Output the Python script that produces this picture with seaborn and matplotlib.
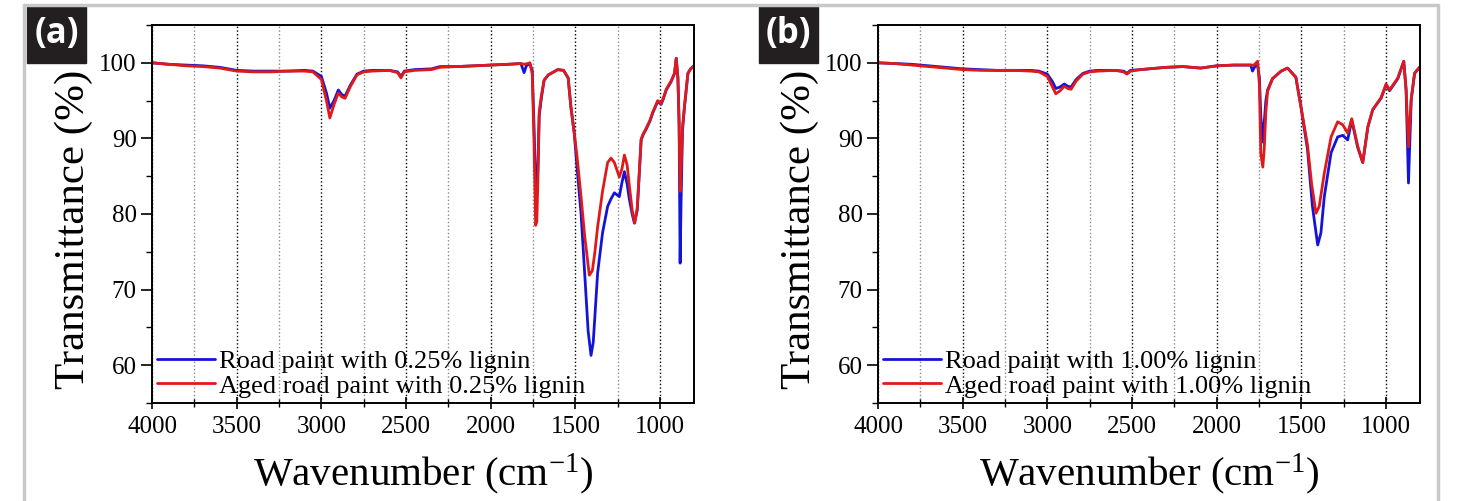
import matplotlib
matplotlib.use("Agg")
from matplotlib import pyplot as plt
from matplotlib.lines import Line2D
from matplotlib.patches import Rectangle
from matplotlib.ticker import MultipleLocator
import pandas as pd
import seaborn as sns

# values (wavenumber cm-1, transmittance %)
wn_a_blue = [4000, 3900, 3800, 3700, 3600, 3500, 3400, 3300, 3200, 3100, 3050, 3000, 2970, 2950, 2925,
             2900, 2880, 2860, 2830, 2790, 2750, 2700, 2600, 2550, 2530, 2510, 2450, 2350, 2300, 2200,
             2100, 2000, 1900, 1822, 1803, 1790, 1769, 1755, 1745, 1732, 1722, 1714, 1700, 1685, 1660,
             1620, 1605, 1570, 1543, 1527, 1507, 1490, 1467, 1445, 1425, 1408, 1395, 1369, 1340, 1310,
             1290, 1270, 1241, 1225, 1211, 1195, 1182, 1165, 1152, 1135, 1112, 1100, 1083, 1060, 1043,
             1014, 994, 980, 964, 935, 915, 905, 895, 888, 882, 876, 868, 856, 836, 820, 800]
t_a_blue = [100.0, 99.8, 99.7, 99.6, 99.4, 99.0, 98.9, 98.9, 98.9, 99.0, 98.9, 98.2, 96.0, 94.0, 95.0,
            96.4, 95.8, 95.6, 97.0, 98.5, 98.9, 99.0, 99.0, 98.8, 98.2, 98.9, 99.1, 99.2, 99.5, 99.5,
            99.6, 99.7, 99.8, 99.9, 98.7, 99.6, 99.9, 99.0, 92.0, 81.5, 86.0, 93.0, 95.5, 97.7, 98.4,
            98.9, 99.1, 99.0, 98.0, 94.2, 90.7, 86.0, 80.1, 72.0, 64.5, 61.3, 63.0, 72.2, 77.5, 81.0,
            82.0, 82.8, 82.3, 84.2, 85.6, 84.0, 82.0, 80.0, 78.8, 80.5, 89.8, 90.5, 91.2, 92.3, 93.4,
            94.9, 94.5, 95.3, 96.4, 97.5, 98.6, 100.6, 98.0, 92.0, 73.5, 82.0, 91.0, 94.2, 98.6, 99.2, 99.6]

wn_a_red = [4000, 3900, 3800, 3700, 3600, 3500, 3400, 3300, 3200, 3100, 3050, 3000, 2970, 2950, 2925,
            2900, 2880, 2860, 2830, 2790, 2750, 2700, 2600, 2550, 2530, 2510, 2450, 2350, 2300, 2200,
            2100, 2000, 1900, 1822, 1800, 1769, 1755, 1745, 1735, 1728, 1720, 1714, 1700, 1685, 1660,
            1620, 1605, 1570, 1543, 1527, 1507, 1490, 1467, 1445, 1418, 1400, 1385, 1369, 1340, 1310,
            1290, 1270, 1241, 1225, 1211, 1195, 1182, 1165, 1150, 1135, 1112, 1100, 1083, 1060, 1043,
            1014, 994, 980, 964, 935, 915, 905, 895, 888, 882, 876, 868, 856, 836, 820, 800]
t_a_red = [100.0, 99.8, 99.6, 99.5, 99.3, 98.9, 98.8, 98.8, 98.9, 98.9, 98.8, 97.8, 95.0, 92.7, 94.5,
           96.0, 95.5, 95.3, 96.8, 98.4, 98.8, 98.9, 99.0, 98.7, 98.0, 98.8, 99.0, 99.1, 99.4, 99.5,
           99.6, 99.7, 99.8, 99.9, 99.8, 100.0, 98.5, 90.0, 78.5, 79.0, 86.0, 93.5, 95.8, 97.7, 98.4,
           98.9, 99.1, 99.0, 98.0, 94.2, 90.7, 87.5, 82.3, 77.0, 71.9, 72.5, 75.0, 78.3, 83.0, 86.8,
           87.4, 86.8, 84.9, 86.0, 87.8, 86.5, 83.8, 80.5, 78.8, 80.8, 89.9, 90.6, 91.3, 92.4, 93.5,
           95.0, 94.6, 95.4, 96.5, 97.6, 98.6, 100.6, 98.0, 92.0, 83.0, 86.0, 91.5, 94.3, 98.6, 99.2, 99.6]

wn_b_blue = [4000, 3900, 3800, 3700, 3600, 3500, 3400, 3300, 3200, 3100, 3050, 3000, 2970, 2950, 2925,
             2900, 2880, 2860, 2830, 2790, 2750, 2700, 2600, 2550, 2530, 2510, 2450, 2350, 2300, 2200,
             2095, 2000, 1900, 1799, 1789, 1775, 1759, 1748, 1740, 1728, 1720, 1710, 1700, 1671, 1620,
             1582, 1533, 1503, 1464, 1435, 1404, 1385, 1365, 1325, 1286, 1256, 1227, 1203, 1168, 1138,
             1108, 1079, 1030, 1000, 980, 931, 896, 882, 868, 852, 832, 803]
t_b_blue = [100.0, 99.9, 99.8, 99.6, 99.4, 99.2, 99.1, 99.0, 99.0, 99.0, 98.9, 98.5, 97.5, 96.6, 96.8,
            97.2, 96.9, 96.8, 97.8, 98.6, 98.9, 99.0, 99.0, 98.9, 98.6, 99.0, 99.1, 99.3, 99.4, 99.5,
            99.3, 99.6, 99.7, 99.7, 98.9, 99.5, 99.8, 98.0, 93.0, 89.5, 92.0, 95.0, 96.4, 97.9, 98.9,
            99.3, 98.1, 94.2, 88.5, 81.0, 75.9, 77.5, 82.3, 88.1, 90.2, 90.4, 89.8, 92.4, 88.8, 86.8,
            91.5, 93.8, 95.3, 97.1, 96.3, 97.9, 100.2, 96.4, 84.1, 95.1, 98.6, 99.4]

wn_b_red = [4000, 3900, 3800, 3700, 3600, 3500, 3400, 3300, 3200, 3100, 3050, 3000, 2970, 2950, 2925,
            2900, 2880, 2860, 2830, 2790, 2750, 2700, 2600, 2550, 2530, 2510, 2450, 2350, 2300, 2200,
            2095, 2000, 1900, 1799, 1780, 1759, 1748, 1740, 1728, 1720, 1710, 1700, 1671, 1620,
            1582, 1533, 1503, 1464, 1440, 1414, 1395, 1365, 1325, 1286, 1256, 1227, 1203, 1168, 1138,
            1108, 1079, 1030, 1000, 980, 931, 896, 882, 868, 852, 832, 803]
t_b_red = [100.0, 99.9, 99.7, 99.5, 99.3, 99.1, 99.0, 99.0, 99.0, 98.9, 98.8, 98.2, 96.8, 95.9, 96.3,
           96.9, 96.6, 96.5, 97.6, 98.5, 98.8, 98.9, 99.0, 98.8, 98.5, 98.9, 99.1, 99.3, 99.4, 99.5,
           99.3, 99.6, 99.7, 99.7, 99.7, 100.2, 97.0, 88.0, 86.2, 88.5, 93.5, 96.2, 97.9, 98.9,
           99.3, 98.1, 94.2, 89.1, 84.0, 80.1, 81.0, 85.4, 90.2, 92.2, 91.8, 90.7, 92.6, 89.0, 86.8,
           91.5, 93.8, 95.4, 97.2, 96.4, 98.0, 100.2, 96.4, 88.9, 95.2, 98.6, 99.4]

labels_a = ["Road paint with 0.25% lignin", "Aged road paint with 0.25% lignin"]
labels_b = ["Road paint with 1.00% lignin", "Aged road paint with 1.00% lignin"]
panel_tags = ["(a)", "(b)"]

sns.set_theme(style="ticks")
plt.rcParams['font.family'] = ['Liberation Serif', 'DejaVu Serif']
plt.rcParams['mathtext.fontset'] = 'custom'
plt.rcParams['mathtext.rm'] = 'Liberation Serif'
plt.rcParams['mathtext.it'] = 'Liberation Serif:italic'
plt.rcParams['text.color'] = 'black'
plt.rcParams['axes.labelcolor'] = 'black'
plt.rcParams['xtick.color'] = 'black'
plt.rcParams['ytick.color'] = 'black'

W, H = 1463, 501
fig = plt.figure(figsize=(W / 100, H / 100), dpi=100)

# light grey frame round both panels
frame = dict(color='#c8c8c8', linewidth=2.5, transform=fig.transFigure)
fig.add_artist(Line2D([24 / W, 24 / W], [0, 1 - 5 / H], **frame))
fig.add_artist(Line2D([24 / W, 1438 / W], [1 - 5 / H, 1 - 5 / H], **frame))
fig.add_artist(Line2D([1438 / W, 1438 / W], [0, 1 - 5 / H], **frame))

blue = '#1414d8'
red = '#e01a1a'

panels = [
    (152, wn_a_blue, t_a_blue, wn_a_red, t_a_red, labels_a, 27),
    (878, wn_b_blue, t_b_blue, wn_b_red, t_b_red, labels_b, 759),
]

for i, (left, wb, tb, wr, tr, labs, tagx) in enumerate(panels):
    ax = fig.add_axes([left / W, 1 - 403 / H, 542 / W, 378 / H])
    df_blue = pd.DataFrame({'wn': wb, 'T': tb})
    df_red = pd.DataFrame({'wn': wr, 'T': tr})
    sns.lineplot(data=df_blue, x='wn', y='T', ax=ax, color=blue, linewidth=2.0,
                 estimator=None, sort=False, label=labs[0])
    sns.lineplot(data=df_red, x='wn', y='T', ax=ax, color=red, linewidth=2.0,
                 estimator=None, sort=False, label=labs[1])

    ax.set_xlim(4000, 800)
    ax.set_ylim(55, 105)
    ax.xaxis.set_major_locator(MultipleLocator(500))
    ax.xaxis.set_minor_locator(MultipleLocator(250))
    ax.yaxis.set_minor_locator(MultipleLocator(5))
    ax.set_yticks([60, 70, 80, 90, 100])

    ax.set_axisbelow(True)
    ax.grid(which='major', axis='x', color='black', linestyle=':', linewidth=1.0)
    ax.grid(which='minor', axis='x', color='#888888', linestyle=':', linewidth=1.0)
    ax.grid(which='major', axis='y', visible=False)

    for s in ax.spines.values():
        s.set_visible(True)
        s.set_color('black')
        s.set_linewidth(1.4)

    ax.tick_params(axis='x', which='major', direction='inout', length=9, width=1.2,
                   labelsize=18, pad=5)
    ax.tick_params(axis='x', which='minor', direction='inout', length=6, width=1.0)
    ax.tick_params(axis='y', which='major', direction='out', length=8, width=1.2,
                   labelsize=18, pad=3)
    ax.tick_params(axis='y', which='minor', direction='out', length=4, width=1.0)

    ax.set_xlabel('Wavenumber (cm$^{-1}$)', fontsize=29.5, labelpad=10)
    ax.set_ylabel('Transmittance (%)', fontsize=31, labelpad=4)
    ax.yaxis.set_label_coords(-0.108, 0.46)

    ax.legend(loc='lower left', frameon=False, fontsize=19, handlelength=2.2,
              handletextpad=0.15, labelspacing=0.05, borderaxespad=0.1, borderpad=0.1)

    # dark tag box with panel letter
    fig.add_artist(Rectangle((tagx / W, 1 - 63 / H), 59 / W, 58 / H,
                             transform=fig.transFigure, color='#231f20'))
    fig.text((tagx + 29.5) / W, 1 - 34 / H, panel_tags[i], color='white', fontsize=25,
             fontweight='bold', family=['Open Sans', 'DejaVu Sans'],
             ha='center', va='center')

fig.savefig('out.png', dpi=100, facecolor='white')
